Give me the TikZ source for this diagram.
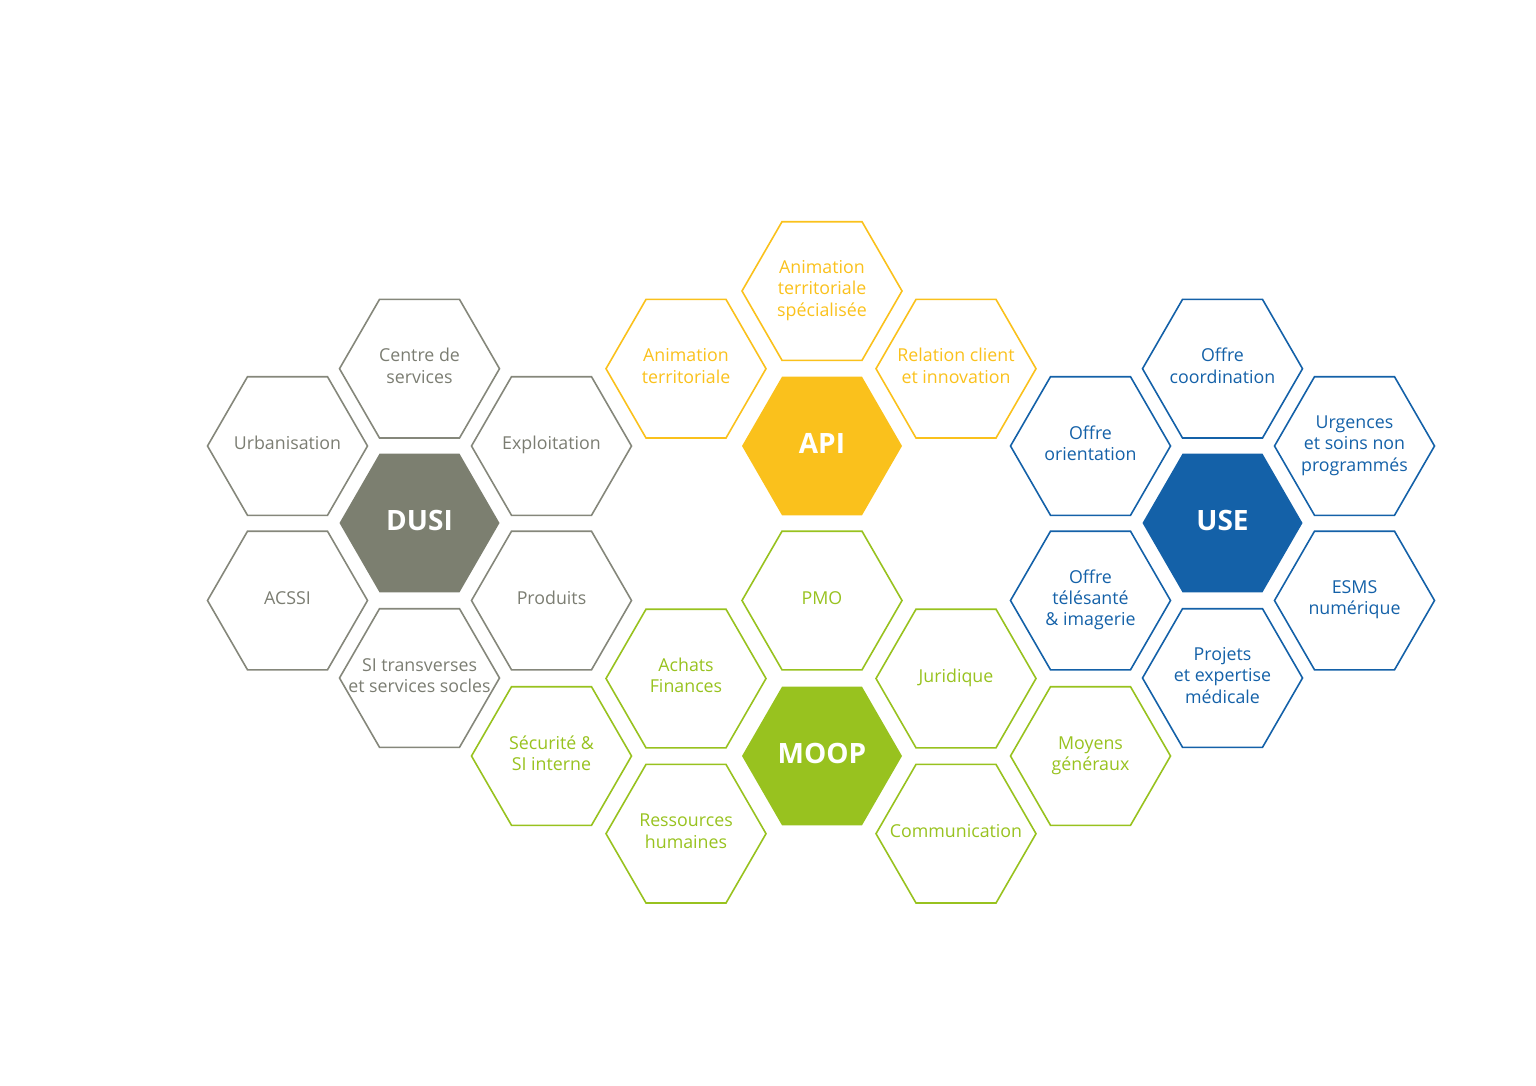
\documentclass[tikz,border=0pt]{standalone}
\usepackage{fontspec}
\setmainfont{Open Sans}
\definecolor{grayline}{HTML}{85877B}
\definecolor{graytext}{HTML}{7B7D72}
\definecolor{grayfill}{HTML}{7C7F70}
\definecolor{yel}{HTML}{FAC11C}
\definecolor{blu}{HTML}{1461A8}
\definecolor{grn}{HTML}{98C21F}
\tikzset{
  hexline/.style={draw=#1, line width=1.6pt, line join=miter},
  hexfill/.style={fill=#1},
  celltext/.style={text=#1, align=center, inner sep=0pt, yshift=0.8pt,
    font=\fontsize{17.8}{21.3}\selectfont},
  headtext/.style={text=white, inner sep=0pt, yshift=2.5pt,
    font=\bfseries\fontsize{28}{30}\selectfont},
}
% #1 name, #2 x, #3 y, #4 path style, #5 text style, #6 text
\newcommand\hexcell[6]{%
  \path[#4] ({#2+80},#3) -- ({#2+40},{#3+69.3}) -- ({#2-40},{#3+69.3}) --
    ({#2-80},#3) -- ({#2-40},{#3-69.3}) -- ({#2+40},{#3-69.3}) -- cycle;
  \node[#5] (#1) at (#2,#3) {#6};
}
\newcommand\cellt[1]{\vphantom{bd}#1\vphantom{gp}}
\begin{document}
\begin{tikzpicture}[x=1pt,y=-1pt]
\useasboundingbox (0,0) rectangle (1536,1086);
% DUSI
\hexcell{dusi}{419.5}{523}{hexfill=grayfill}{headtext}{DUSI}
\hexcell{urb}{287.5}{446}{hexline=grayline}{celltext=graytext}{\cellt{Urbanisation}}
\hexcell{cds}{419.5}{368.7}{hexline=grayline}{celltext=graytext}{\vphantom{bd}Centre de\\services\vphantom{gp}}
\hexcell{expl}{551.5}{446}{hexline=grayline}{celltext=graytext}{\cellt{Exploitation}}
\hexcell{acssi}{287.5}{600.5}{hexline=grayline}{celltext=graytext}{\cellt{ACSSI}}
\hexcell{prod}{551.5}{600.5}{hexline=grayline}{celltext=graytext}{\cellt{Produits}}
\hexcell{sit}{419.5}{678}{hexline=grayline}{celltext=graytext}{\vphantom{bd}SI transverses\\et services socles\vphantom{gp}}
% API
\hexcell{api}{822}{446}{hexfill=yel}{headtext}{API}
\hexcell{ats}{822}{291}{hexline=yel}{celltext=yel}{\vphantom{bd}Animation\\territoriale\\spécialisée\vphantom{gp}}
\hexcell{at}{686}{368.7}{hexline=yel}{celltext=yel}{\vphantom{bd}Animation\\territoriale\vphantom{gp}}
\hexcell{rci}{956}{368.7}{hexline=yel}{celltext=yel}{\vphantom{bd}Relation client\\et innovation\vphantom{gp}}
% USE
\hexcell{use}{1222.5}{523}{hexfill=blu}{headtext}{USE}
\hexcell{ocoord}{1222.5}{368.7}{hexline=blu}{celltext=blu}{\vphantom{bd}Offre\\coordination\vphantom{gp}}
\hexcell{oorient}{1090.5}{446}{hexline=blu}{celltext=blu}{\vphantom{bd}Offre\\orientation\vphantom{gp}}
\hexcell{urg}{1354.5}{446}{hexline=blu}{celltext=blu}{\vphantom{bd}Urgences\\et soins non\\programmés\vphantom{gp}}
\hexcell{otele}{1090.5}{600.5}{hexline=blu}{celltext=blu}{\vphantom{bd}Offre\\télésanté\\\& imagerie\vphantom{gp}}
\hexcell{esms}{1354.5}{600.5}{hexline=blu}{celltext=blu}{\vphantom{bd}ESMS\\numérique\vphantom{gp}}
\hexcell{proj}{1222.5}{678}{hexline=blu}{celltext=blu}{\vphantom{bd}Projets\\et expertise\\médicale\vphantom{gp}}
% MOOP
\hexcell{moop}{822}{756}{hexfill=grn}{headtext}{MOOP}
\hexcell{pmo}{822}{600.5}{hexline=grn}{celltext=grn}{\cellt{PMO}}
\hexcell{achats}{686}{678.5}{hexline=grn}{celltext=grn}{\vphantom{bd}Achats\\Finances\vphantom{gp}}
\hexcell{jur}{956}{678.5}{hexline=grn}{celltext=grn}{\cellt{Juridique}}
\hexcell{secu}{551.5}{756}{hexline=grn}{celltext=grn}{\vphantom{bd}Sécurité \&\\SI interne\vphantom{gp}}
\hexcell{rh}{686}{833.7}{hexline=grn}{celltext=grn}{\vphantom{bd}Ressources\\humaines\vphantom{gp}}
\hexcell{comm}{956}{833.7}{hexline=grn}{celltext=grn}{\cellt{Communication}}
\hexcell{moyens}{1090.5}{756}{hexline=grn}{celltext=grn}{\vphantom{bd}Moyens\\généraux\vphantom{gp}}
\end{tikzpicture}
\end{document}
